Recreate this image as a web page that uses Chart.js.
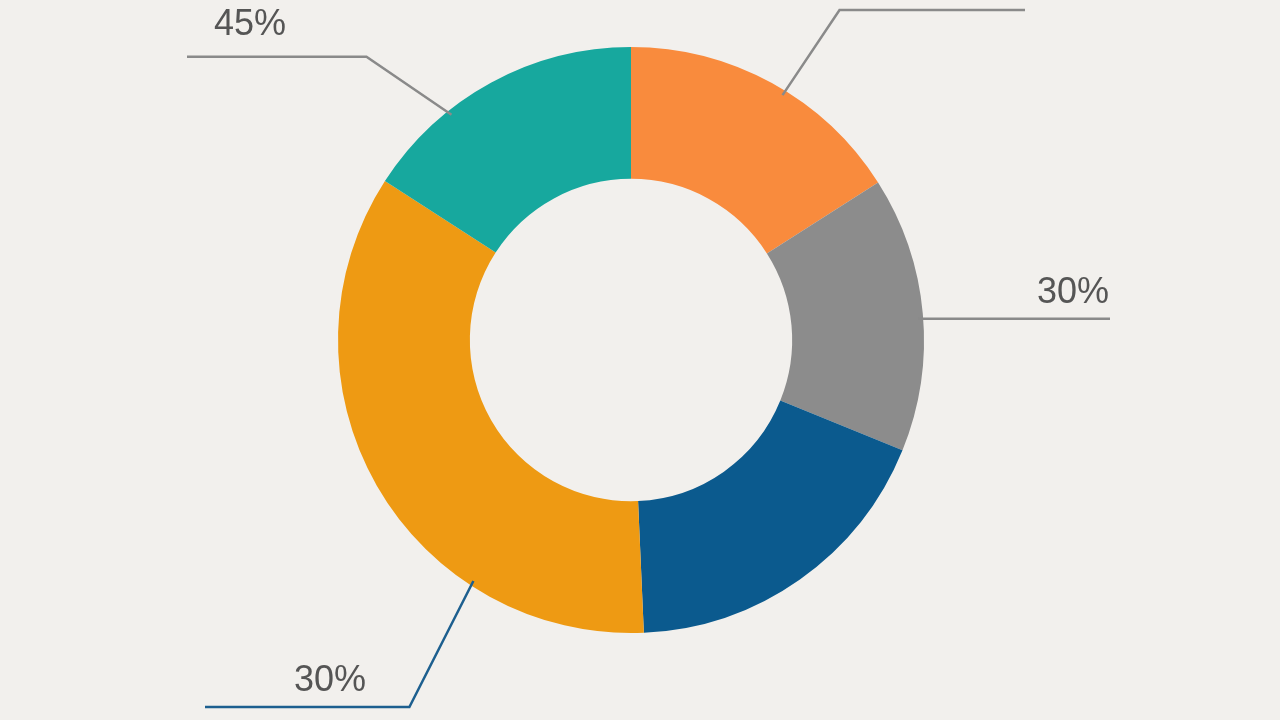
<!DOCTYPE html>
<html><head><meta charset="utf-8">
<script src="https://cdn.jsdelivr.net/npm/chart.js@4"></script>
<style>html,body{margin:0;padding:0;background:#F2F0ED;}#w{width:1280px;height:720px;}</style>
</head><body><div id="w"><canvas id="c"></canvas></div>
<script>
const categories = ["A", "B", "C", "D", "E"];
const values = [16.0, 15.2, 18.2, 34.9, 15.9];
const labelTexts = ["", "30%", "", "30%", "45%"];
const colors = ["#F98B3D", "#8C8C8C", "#0B5A8E", "#EE9A13", "#17A89E"];

// leader: angle offset (deg) on arc, elbow offset from start, end x, text pos, line color
const leaders = [
  {idx:0, ang:3, elbow:[57,-85], endX:1025, text:null, color:"#8a8a8a"},
  {idx:1, ang:1, elbow:null, endX:1110, textX:1073, textDY:-26, color:"#8a8a8a"},
  {idx:3, ang:-27, elbow:[-64,126], endX:205, textX:330, textDY:-26, color:"#1d5f8f"},
  {idx:4, ang:-10, elbow:[-85,-58], endX:187, textX:250, textDY:-32, color:"#8a8a8a"}
];

const leaderPlugin = {
  id:'leaders',
  afterDatasetsDraw(chart){
    const ctx = chart.ctx;
    const meta = chart.getDatasetMeta(0);
    ctx.save();
    leaders.forEach(l=>{
      const a = meta.data[l.idx];
      const mid = (a.startAngle + a.endAngle)/2 + l.ang*Math.PI/180;
      const r = a.outerRadius - 5;
      const sx = a.x + Math.cos(mid)*r, sy = a.y + Math.sin(mid)*r;
      ctx.strokeStyle = l.color; ctx.lineWidth = 2.5;
      ctx.beginPath(); ctx.moveTo(sx, sy);
      let ey = sy;
      if (l.elbow){ ctx.lineTo(sx+l.elbow[0], sy+l.elbow[1]); ey = sy+l.elbow[1]; ctx.lineTo(l.endX, ey); }
      else { ctx.lineTo(l.endX, ey); }
      ctx.stroke();
      const t = labelTexts[l.idx];
      if (t){
        ctx.fillStyle = "#555"; ctx.font = "36px 'Liberation Sans', Arial, sans-serif";
        ctx.textAlign = "center"; ctx.textBaseline = "middle";
        ctx.fillText(t, l.textX, ey + l.textDY);
      }
    });
    ctx.restore();
  }
};

new Chart(document.getElementById('c'), {
  type:'doughnut',
  data:{labels:categories, datasets:[{data:values, backgroundColor:colors, borderWidth:0}]},
  options:{
    responsive:true, maintainAspectRatio:false, animation:false,
    cutout:'55%',
    layout:{padding:{top:47,bottom:87,left:0,right:18}},
    plugins:{legend:{display:false}, tooltip:{enabled:false}}
  },
  plugins:[leaderPlugin]
});
</script></body></html>
